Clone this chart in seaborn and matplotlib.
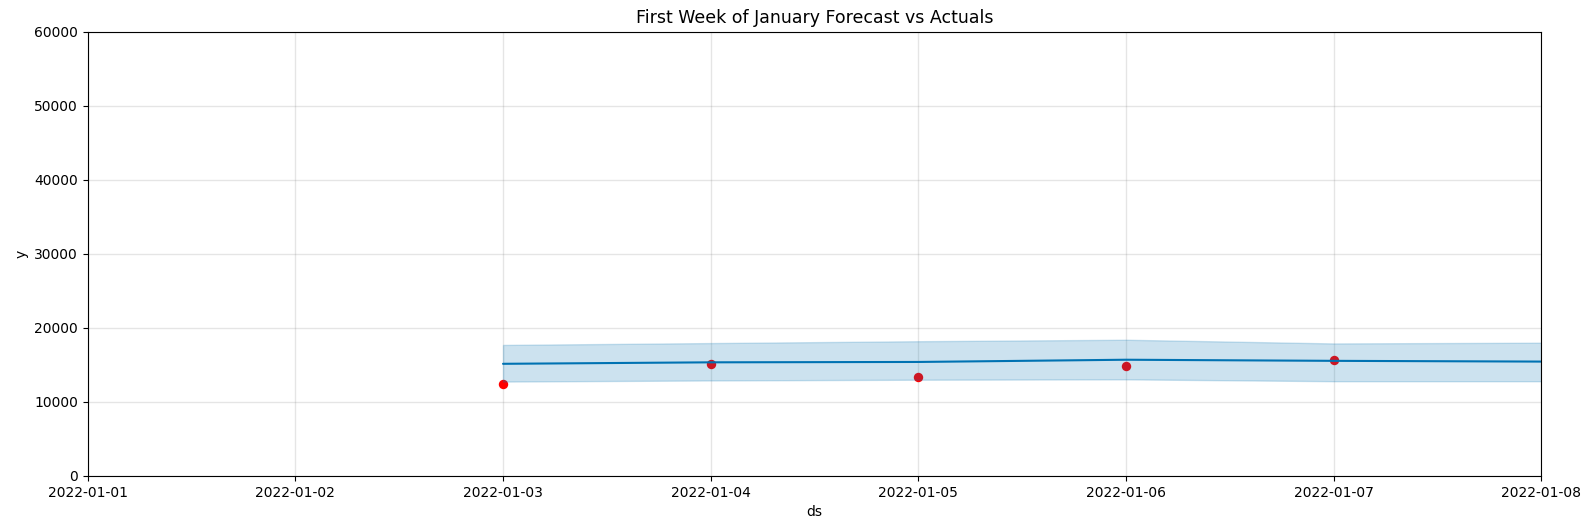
import matplotlib
matplotlib.use("Agg")
import matplotlib.pyplot as plt
import seaborn as sns
import pandas as pd
import numpy as np

# Forecast (yhat with interval)
fc_dates = ["2022-01-03", "2022-01-04", "2022-01-05", "2022-01-06", "2022-01-07", "2022-01-08"]
yhat = [15150, 15350, 15400, 15700, 15550, 15450]
yhat_upper = [17700, 17950, 18200, 18400, 17900, 18000]
yhat_lower = [12750, 12900, 13000, 13050, 12800, 12800]

# Actuals
act_dates = ["2022-01-03", "2022-01-04", "2022-01-05", "2022-01-06", "2022-01-07"]
actual_y = [12400, 15100, 13400, 14800, 15600]

x_ticks = ["2022-01-01", "2022-01-02", "2022-01-03", "2022-01-04",
           "2022-01-05", "2022-01-06", "2022-01-07", "2022-01-08"]

fc = pd.DataFrame({"ds": pd.to_datetime(fc_dates), "yhat": yhat,
                   "yhat_upper": yhat_upper, "yhat_lower": yhat_lower})
act = pd.DataFrame({"ds": pd.to_datetime(act_dates), "y": actual_y})

sns.set_style("white", {"text.color": "black", "axes.labelcolor": "black",
                        "xtick.color": "black", "ytick.color": "black",
                        "axes.edgecolor": "black"})
plt.rcParams['font.family'] = ['DejaVu Sans']

fig = plt.figure(figsize=(15.94, 5.31), dpi=100)
ax = fig.add_axes([0.055, 0.1036, 0.912, 0.8367])

sns.scatterplot(data=act, x="ds", y="y", color="red", s=46, linewidth=0, ax=ax, zorder=1)
sns.lineplot(data=fc, x="ds", y="yhat", color="#0072B2", linewidth=1.5, ax=ax, zorder=2)
ax.fill_between(fc["ds"], fc["yhat_lower"], fc["yhat_upper"], color="#0072B2", alpha=0.2, linewidth=1)

ax.grid(True, which="major", c="gray", ls="-", lw=1, alpha=0.2)
ax.set_xticks(pd.to_datetime(x_ticks))
ax.set_xticklabels(x_ticks)
ax.set_xlim(pd.Timestamp(x_ticks[0]), pd.Timestamp(x_ticks[-1]))
ax.set_ylim(0, 60000)
ax.set_yticks([0, 10000, 20000, 30000, 40000, 50000, 60000])
ax.tick_params(axis="both", which="both", length=3.5, width=0.8, direction="out",
               labelsize=10, colors="black")
ax.tick_params(bottom=True, left=True)
for s in ax.spines.values():
    s.set_color("black")
    s.set_linewidth(0.8)
ax.set_xlabel("ds", fontsize=10, color="black")
ax.set_ylabel("y", fontsize=10, color="black")
ax.set_title("First Week of January Forecast vs Actuals", fontsize=12.5, color="black")

fig.savefig("out.png", dpi=100)
